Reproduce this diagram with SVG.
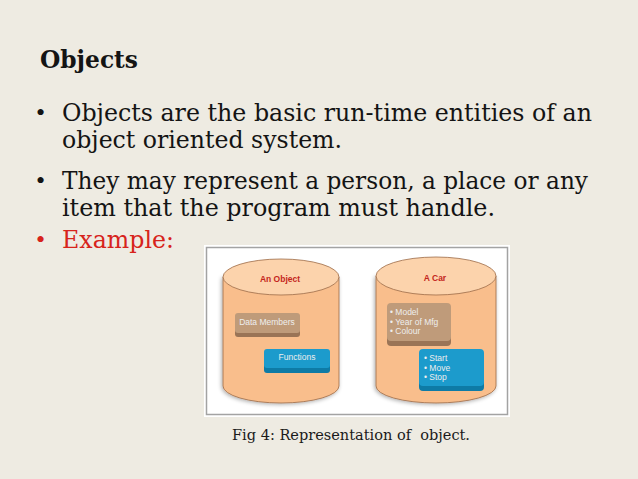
<svg xmlns="http://www.w3.org/2000/svg" width="638" height="479" viewBox="0 0 638 479">
<defs>
<style>
.body{font-family:"DejaVu Serif","Liberation Serif",serif;font-size:23.5px;fill:#141414}
.dot{font-family:"Liberation Serif","DejaVu Serif",serif;font-size:26px;fill:#141414}
.title{font-family:"DejaVu Serif","Liberation Serif",serif;font-size:24px;font-weight:bold;fill:#141414}
.red{fill:#D7231B}
.cap{font-family:"DejaVu Serif","Liberation Serif",serif;font-size:14.5px;fill:#1a1a1a}
.cyl{fill:#F9BE8C;stroke:#9C6B48;stroke-width:0.8}
.cyltop{fill:#FCD3AC;stroke:#9C6B48;stroke-width:0.8}
.hdr{font-family:"Liberation Sans",Arial,sans-serif;font-size:8.5px;font-weight:bold;fill:#C4261C;text-anchor:middle}
.lbl{font-family:"Liberation Sans",Arial,sans-serif;font-size:8.5px;fill:#EEEEEE}
.brown{fill:#BF9B7A}
.brownd{fill:#9A7456}
.blue{fill:#1C9BCC}
.blued{fill:#0E7BA6}
</style>
<filter id="sh" x="-20%" y="-20%" width="140%" height="140%">
<feGaussianBlur in="SourceAlpha" stdDeviation="2"/>
<feOffset dx="-1.5" dy="1" result="b"/>
<feComponentTransfer><feFuncA type="linear" slope="0.35"/></feComponentTransfer>
<feMerge><feMergeNode/><feMergeNode in="SourceGraphic"/></feMerge>
</filter>
</defs>
<rect x="0" y="0" width="638" height="479" fill="#EEEBE2"/>

<g id="title"><text class="title" x="40" y="68" textLength="98" lengthAdjust="spacingAndGlyphs">Objects</text></g>

<g id="bullets">
<text class="dot" x="36" y="121">•</text>
<text class="body" x="62" y="121" textLength="530" lengthAdjust="spacingAndGlyphs">Objects are the basic run-time entities of an</text>
<text class="body" x="62" y="148" textLength="280" lengthAdjust="spacingAndGlyphs">object oriented system.</text>
<text class="dot" x="36" y="189">•</text>
<text class="body" x="62" y="189" textLength="526" lengthAdjust="spacingAndGlyphs">They may represent a person, a place or any</text>
<text class="body" x="62" y="216" textLength="433" lengthAdjust="spacingAndGlyphs">item that the program must handle.</text>
<text class="dot red" x="36" y="248">•</text>
<text class="body red" x="62" y="248" textLength="112" lengthAdjust="spacingAndGlyphs">Example:</text>
</g>

<g id="figure">
<rect x="204" y="245" width="306" height="172" fill="#FFFFFF"/>
<rect x="206.5" y="247.5" width="301" height="167" fill="#FFFFFF" stroke="#A3A3A3" stroke-width="1.5"/>
</g>

<g id="node-object">
<path class="cyl" filter="url(#sh)" d="M223,277 L223,386 A58,17 0 0 0 339,386 L339,277 Z"/>
<ellipse class="cyltop" cx="281" cy="277" rx="58" ry="18"/>
<text class="hdr" x="280" y="282">An Object</text>
<rect class="brownd" x="235" y="317" width="65" height="20" rx="3"/>
<rect class="brown" x="235" y="313" width="65" height="20" rx="3"/>
<text class="lbl" x="267" y="325" text-anchor="middle">Data Members</text>
<rect class="blued" x="264" y="353" width="66" height="20" rx="3"/>
<rect class="blue" x="264" y="349" width="66" height="19" rx="3"/>
<text class="lbl" x="297" y="360" text-anchor="middle">Functions</text>
</g>

<g id="node-car">
<path class="cyl" filter="url(#sh)" d="M376,276 L376,386 A60,17 0 0 0 496,386 L496,276 Z"/>
<ellipse class="cyltop" cx="436" cy="276" rx="60" ry="19"/>
<text class="hdr" x="435" y="281">A Car</text>
<rect class="brownd" x="387" y="307" width="64" height="39" rx="4"/>
<rect class="brown" x="387" y="303" width="64" height="38" rx="4"/>
<text class="lbl" x="390" y="315">• Model</text>
<text class="lbl" x="390" y="324.5">• Year of Mfg</text>
<text class="lbl" x="390" y="334">• Colour</text>
<rect class="blued" x="419" y="353" width="65" height="38" rx="4"/>
<rect class="blue" x="419" y="349" width="65" height="37" rx="4"/>
<text class="lbl" x="424" y="361">• Start</text>
<text class="lbl" x="424" y="370.5">• Move</text>
<text class="lbl" x="424" y="380">• Stop</text>
</g>

<g id="connectors"></g>

<g id="caption"><text class="cap" x="232" y="440" textLength="238" lengthAdjust="spacingAndGlyphs" xml:space="preserve">Fig 4: Representation of  object.</text></g>
</svg>
